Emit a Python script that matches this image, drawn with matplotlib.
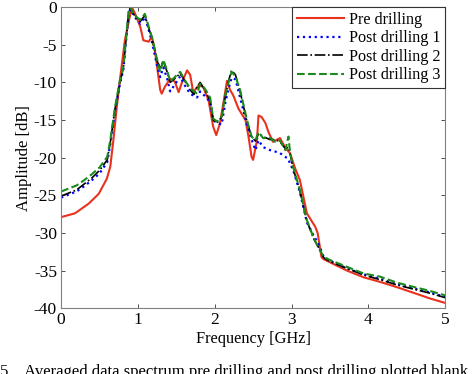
"""Amplitude spectrum pre / post drilling."""
import matplotlib
matplotlib.use("Agg")
import matplotlib.pyplot as plt

plt.rcParams["font.family"] = ["Liberation Serif", "DejaVu Serif"]
plt.rcParams["axes.unicode_minus"] = False

# post drilling curves share one frequency grid (GHz)
f_post = [0, 0.1, 0.2, 0.3, 0.4, 0.5, 0.6, 0.64, 0.70, 0.76, 0.81, 0.88, 0.9,
          0.94, 0.98, 1.03, 1.09, 1.14, 1.18, 1.25, 1.29, 1.33, 1.38, 1.42,
          1.48, 1.55, 1.61, 1.68, 1.73, 1.77, 1.81, 1.87, 1.94, 1.98, 2.03,
          2.09, 2.14, 2.18, 2.22, 2.27, 2.33, 2.42, 2.48, 2.53, 2.57, 2.63,
          2.72, 2.79, 2.85, 2.92, 2.96, 2.98, 3.02, 3.11, 3.2, 3.29, 3.35,
          3.42, 3.5, 3.72, 3.94, 4.15, 4.37, 4.6, 4.8, 5.0]
post1 = [-25.3, -24.9, -24.5, -23.8, -23.0, -22.1, -20.6, -18.2, -13.9, -10.5,
         -8.3, -0.8, -0.3, -1.0, -1.6, -2.2, -1.3, -3.0, -4.5, -7.8, -9.3,
         -8.0, -9.5, -11.2, -10.3, -9.2, -10.4, -11.5, -11.8, -12.0, -11.2,
         -11.8, -12.6, -15.0, -15.4, -15.6, -12.6, -10.8, -9.4, -9.6, -12.0,
         -15.6, -17.6, -19.0, -17.7, -18.6, -19.0, -19.2, -19.4, -19.9, -20.2,
         -20.8, -21.6, -24.6, -28.6, -30.4, -31.4, -33.2, -33.7, -34.7, -35.5,
         -36.1, -36.8, -37.4, -37.9, -38.5]
post2 = [-25.1, -24.7, -24.3, -23.5, -22.7, -21.7, -20.3, -18.0, -13.6, -10.2,
         -8.1, -0.6, -0.1, -0.9, -1.4, -1.9, -1.1, -2.8, -4.0, -7.2, -8.0,
         -7.2, -8.6, -10.0, -9.5, -8.8, -9.8, -11.0, -11.6, -10.6, -10.0,
         -11.0, -12.4, -15.0, -15.4, -14.6, -11.8, -9.8, -8.4, -9.0, -11.2,
         -15.2, -17.2, -17.8, -16.8, -17.2, -17.6, -17.6, -17.9, -18.8, -18.6,
         -19.4, -21.4, -24.5, -28.4, -30.8, -31.9, -33.3, -33.8, -34.7, -35.6,
         -36.2, -36.9, -37.5, -38.0, -38.6]
post3 = [-24.5, -24.1, -23.7, -23.0, -22.2, -21.3, -19.9, -17.7, -13.4, -10.0,
         -7.9, -0.4, 0.0, -0.8, -1.3, -1.7, -0.9, -2.6, -3.9, -7.0, -8.6,
         -7.0, -8.4, -9.9, -9.3, -8.6, -9.7, -10.8, -11.2, -11.5, -10.2,
         -10.8, -12.0, -14.8, -15.2, -14.5, -11.5, -10.0, -8.6, -9.2, -11.0,
         -15.0, -17.2, -17.7, -16.6, -17.4, -17.4, -17.9, -17.7, -19.0, -17.2,
         -19.2, -21.2, -24.3, -28.3, -30.7, -31.9, -33.2, -33.6, -34.5, -35.4,
         -35.8, -36.6, -37.2, -37.7, -38.3]

f_pre = [0, 0.18, 0.36, 0.49, 0.595, 0.64, 0.68, 0.72, 0.77, 0.83, 0.92, 0.96,
         1.03, 1.07, 1.14, 1.18, 1.22, 1.29, 1.31, 1.35, 1.42, 1.48, 1.53,
         1.57, 1.64, 1.68, 1.72, 1.79, 1.85, 1.92, 1.98, 2.02, 2.07, 2.16, 2.2,
         2.24, 2.31, 2.40, 2.44, 2.48, 2.5, 2.55, 2.57, 2.61, 2.66, 2.70, 2.76,
         2.85, 2.92, 2.98, 3.05, 3.11, 3.2, 3.31, 3.34, 3.39, 3.42, 3.72, 3.94,
         4.15, 4.37, 4.63, 4.8, 5.0]
pre = [-27.9, -27.4, -26.1, -24.8, -22.8, -21.2, -17.7, -13.7, -9.3, -4.4,
       0.0, -0.8, -2.6, -4.4, -4.6, -3.9, -5.7, -11.0, -11.5, -10.6, -9.5,
       -9.9, -11.3, -10.1, -8.4, -9.0, -11.3, -10.4, -10.6, -12.4, -15.9,
       -17.0, -15.4, -9.8, -11.0, -11.7, -13.5, -15.0, -17.2, -19.9, -20.3,
       -17.7, -14.4, -14.6, -15.4, -16.6, -17.9, -17.4, -18.7, -19.4, -21.5,
       -23.0, -27.4, -29.2, -30.0, -33.2, -33.5, -35.0, -35.9, -36.5, -37.2,
       -38.1, -38.7, -39.3]

fig = plt.figure(figsize=(4.74, 3.74), dpi=100)
ax = fig.add_axes([0.129, 0.176, 0.81, 0.805])

ax.plot(f_pre, pre, color="#e8321e", lw=1.5, label="Pre drilling")
ax.plot(f_post, post1, color="#0000ff", lw=1.6, ls=":", label="Post drilling 1")
ax.plot(f_post, post2, color="black", lw=1.2, ls="-.", label="Post drilling 2")
ax.plot(f_post, post3, color="#1a8a1a", lw=1.5, ls="--", label="Post drilling 3")

ax.set_xlim(0, 5)
ax.set_ylim(-40, 0)
ax.set_xticks(range(0, 6))
ax.set_yticks(range(-40, 1, 5))
ax.tick_params(direction="in", length=3, width=0.6, top=True, right=True,
               labelsize=12.5, pad=3, color="#333333")
for s in ax.spines.values():
    s.set_color("#808080")
    s.set_linewidth(0.8)

ax.set_xlabel("Frequency [GHz]", fontsize=11.8, labelpad=2)
ax.set_ylabel("Amplitude [dB]", fontsize=12, labelpad=1)

leg = ax.legend(loc="upper right", fontsize=11.6, handlelength=2.9,
                borderaxespad=0.0, borderpad=0.3, labelspacing=0.15,
                handletextpad=0.3, fancybox=False, framealpha=1)
leg.get_frame().set_edgecolor("#333333")
leg.get_frame().set_linewidth(0.8)

# figure caption, cut off by the bottom edge as in the source image
fig.text(0.0, 0.026, "5.   Averaged data spectrum pre drilling and post drilling plotted blank",
         fontsize=12, va="top", ha="left")

fig.savefig("out.png", dpi=100)
